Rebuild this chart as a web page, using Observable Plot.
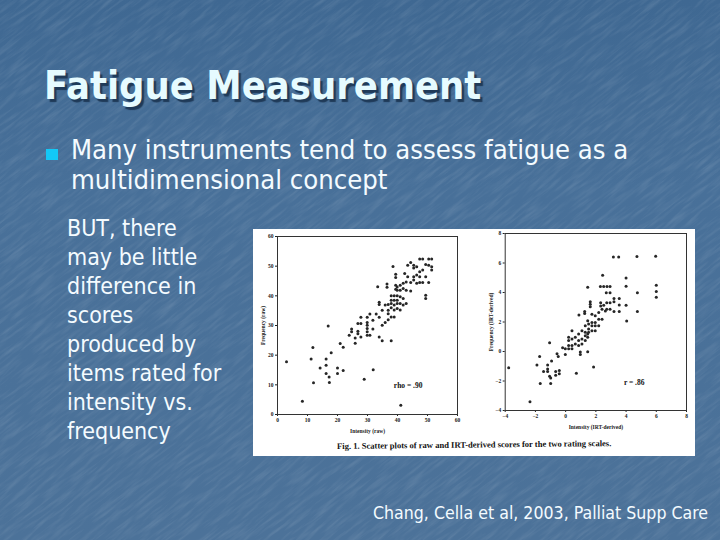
<!DOCTYPE html>
<html>
<head>
<meta charset="utf-8">
<script src="https://cdn.jsdelivr.net/npm/d3@7"></script>
<script src="https://cdn.jsdelivr.net/npm/@observablehq/plot@0.6"></script>
<style>
html,body{margin:0;padding:0;}
#slide{position:relative;width:720px;height:540px;overflow:hidden;background:linear-gradient(180deg,#3f6892 0%,#487099 35%,#4c7299 100%);font-family:"DejaVu Sans Condensed","DejaVu Sans",sans-serif;color:#f4fbff;}
#tex{position:absolute;left:0;top:0;}
#slide>div{position:absolute;}
#title{left:44px;top:60px;font:bold 39.5px "DejaVu Sans Condensed","DejaVu Sans",sans-serif;color:#e6fbff;text-shadow:2.5px 2.5px 1px #1f3a58;white-space:nowrap;line-height:50px;}
#bullet{left:46px;top:149px;width:12px;height:11px;background:#13c8f6;}
#lead{left:71px;top:135px;font-size:27.2px;line-height:30px;white-space:nowrap;}
#side{left:67px;top:214px;font-size:23px;line-height:29px;white-space:nowrap;}
#source{left:373px;top:503px;font-size:17.6px;line-height:20px;white-space:nowrap;}
#paper{left:253px;top:229px;width:442px;height:227px;background:#fff;}
#paper svg{position:absolute;top:0;background:transparent;}
#caption{left:337px;top:441px;font:bold 8.55px "Liberation Serif",serif;color:#111;white-space:nowrap;transform:rotate(-.6deg);transform-origin:left center;}
</style>
</head>
<body>
<div id="slide">
<svg id="tex" width="720" height="540"><defs><filter id="brush" x="0" y="0" width="100%" height="100%"><feTurbulence type="fractalNoise" baseFrequency="0.035 0.3" numOctaves="3" seed="7"/><feColorMatrix values="0 0 0 0 1  0 0 0 0 1  0 0 0 0 1  1.6 0 0 0 -0.68"/></filter></defs><g transform="rotate(-38 360 270)"><rect x="-300" y="-300" width="1320" height="1140" filter="url(#brush)" opacity=".14"/></g></svg>
<div id="title">Fatigue Measurement</div>
<div id="bullet"></div>
<div id="lead">Many instruments tend to assess fatigue as a<br>multidimensional concept</div>
<div id="side">BUT, there<br>may be little<br>difference in<br>scores<br>produced by<br>items rated for<br>intensity vs.<br>frequency</div>
<div id="paper"></div>
<div id="caption">Fig. 1. Scatter plots of raw and IRT-derived scores for the two rating scales.</div>
<div id="source">Chang, Cella et al, 2003, Palliat Supp Care</div>
</div>
<script>
const rawIntensity=[3,8.3,12,11.8,11.2,14.2,16.2,16.2,16.2,17.2,17.3,16.9,17.9,20,20,20.9,21.9,21.9,28.9,31.9,41.1,
23.9,24.7,24.7,25.9,25.9,26.8,26.8,27.8,26.8,27.8,27.8,29.9,29.9,29.9,29.9,29.9,29.9,30.8,30.8,31.8,31.8,32.9,33.9,33.9,34.9,33.9,33.9,34.9,34.9,35.9,36.9,36.9,36.9,37.9,36.9,35.9,33.4,36.5,36.5,
38.5,39.4,39.4,39.4,39.4,37.9,37.9,37.9,37.9,37.9,38.9,38.9,38.9,38.9,38.9,39.9,39.9,39.9,39.9,39.9,39.9,40.9,40.9,40.9,40.9,40.9,41.9,41.9,41.9,41.9,42.9,42.9,42.9,43.4,42.4,43.4,44.4,44.4,44.4,45.4,45.4,45.4,45.4,46.4,46.4,46.4,47.4,47.4,47.4,47.4,48.4,48.4,48.4,49.4,49.4,49.4,49.4,50.4,50.4,50.4,51.4,51.4,51.4];
const rawFrequency=[17.8,4.5,10.7,22.6,18.7,15.7,18.7,16.6,13.8,12.6,10.8,29.8,20.8,15.7,13.8,23.9,22.7,14.8,11.9,15.1,3.1,
26.7,28.8,27.9,24,25.8,28.1,27.2,26.1,30.7,30.7,32.8,32.8,31,30.1,29,27.9,26.7,26.7,33.9,28.8,31.8,33.9,32.8,26.1,24.9,37.8,37.1,30.1,35.1,31,31.9,35.1,34,24.9,37.1,36.9,43.1,44,42.9,
49.9,47.3,46.2,43.6,42.2,40,38.5,37.4,36,32.9,32.9,40,38.5,36.9,35.2,43,41.9,40,38.5,37.4,35.7,43.6,41.9,39.7,37.4,35.2,44.2,42.5,39.1,36.9,44.7,41.9,37.4,50.3,47.5,46.4,41.6,44.5,51.2,50.3,49.4,46.4,45.3,49.8,47,44.2,52.4,48.1,46.4,44.5,52.4,48.7,44.5,50.6,46.4,40.2,39.1,52.4,50.3,44.5,52.4,49.8,48.7];
const irtIntensity=[-3.77,-2.36,-1.9,-1.72,-1.68,-1.46,-1.19,-1.19,-1.19,-1.06,-1.06,-.99,-.99,-.93,-.66,-.66,-.42,-.42,-.57,-.49,-.2,-.02,-.02,.71,1.85,1.46,.97,.97,
.2,.2,.2,.2,.42,.42,.42,.42,.64,.64,.86,.86,.86,1.08,1.08,1.08,1.3,1.3,1.3,1.3,1.46,1.46,1.46,1.52,1.52,1.52,1.74,1.74,1.74,1.74,1.96,1.96,1.96,1.96,2.19,2.19,2.19,2.41,2.41,2.63,.88,1.26,1.26,1.63,1.63,1.63,
1.46,2.45,2.3,2.52,2.74,2.94,2.69,2.94,2.32,2.32,2.52,2.72,2.72,2.94,2.94,3.2,3.2,3.2,3.55,3.55,3.55,4,4,4,4.04,4.75,4.75,3.16,3.51,4.72,5.96,6,6,6];
const irtFrequency=[-1.1,-3.4,-.92,-.34,-2.17,-1.36,-.92,-1.19,-1.36,.6,-1.68,-2.17,-1.79,-.65,-1.36,-1.61,-1.28,-1.5,-.16,-.34,.25,.18,-.2,-1.48,-1.05,-.02,-.04,-.2,
.96,.74,.4,.18,1.41,.85,.4,.18,.96,.51,1.19,.74,.4,1.41,.85,.51,1.74,1.3,1.07,.74,2.08,1.19,.96,1.86,1.52,1.3,2.53,1.97,1.74,1.41,2.42,1.97,1.74,1.41,2.64,2.19,1.74,2.86,2.19,2.75,2.48,2.57,2.71,3.38,3.2,3.04,
4.36,5.17,4.41,4.41,4.41,4.41,3.98,3.98,3.31,3.09,3.13,3.31,2.86,3.31,2.86,3.6,3.38,2.71,3.6,3.15,2.71,4.99,4.43,3.13,2.06,3.98,2.71,6.4,6.4,6.44,6.46,4.5,4.07,3.67];
const rawTicks=[0,10,20,30,40,50,60];
const irtTicks=[-4,-2,0,2,4,6,8];

function panel(xs,ys,o){
  const rows=xs.map((x,i)=>({x,y:ys[i]}));
  const svg=Plot.plot({
    width:o.width,height:227,
    marginLeft:o.ml,marginRight:o.mr,marginTop:o.mt,marginBottom:o.mb,
    style:{background:"transparent",fontFamily:"Liberation Serif, serif"},
    x:{domain:o.domain,ticks:o.ticks,label:null,axis:null},
    y:{domain:o.domainY,ticks:o.ticks,label:null,axis:null},
    marks:[
      Plot.axisX({ticks:o.ticks,tickSize:2,tickPadding:2,fontSize:5.5,fontWeight:"bold",label:o.xLabel,labelAnchor:"center",labelArrow:"none",labelOffset:o.xOffset,color:"#222"}),
      Plot.axisY({ticks:o.ticks,tickSize:2,tickPadding:2,fontSize:5.5,fontWeight:"bold",label:o.yLabel,labelAnchor:"center",labelArrow:"none",labelOffset:16,color:"#222"}),
      Plot.frame({stroke:"#333",strokeWidth:1}),
      Plot.dot(rows,{x:"x",y:"y",r:1.5,fill:"#262626"}),
      Plot.text([o.note],{frameAnchor:"bottom-right",dx:o.noteDx,dy:o.noteDy,fontSize:7.5,fontWeight:"bold",fill:"#111"})
    ]
  });
  svg.style.left=o.left+"px";
  return svg;
}
const paper=document.getElementById("paper");
paper.append(panel(rawIntensity,rawFrequency,{left:0,width:215,ml:24,mr:11,mt:7,mb:42,domain:[0,60],domainY:[0,60],ticks:rawTicks,xOffset:18,xLabel:"Intensity (raw)",yLabel:"Frequency (raw)",note:"rho = .90",noteDx:-35,noteDy:-27}));
paper.append(panel(irtIntensity,irtFrequency,{left:217,width:225,ml:34.7,mr:9,mt:4,mb:46,domain:[-4,8],domainY:[-4,8],ticks:irtTicks,xOffset:18,xLabel:"Intensity (IRT-derived)",yLabel:"Frequency (IRT-derived)",note:"r = .86",noteDx:-42,noteDy:-26}));
</script>
</body>
</html>
